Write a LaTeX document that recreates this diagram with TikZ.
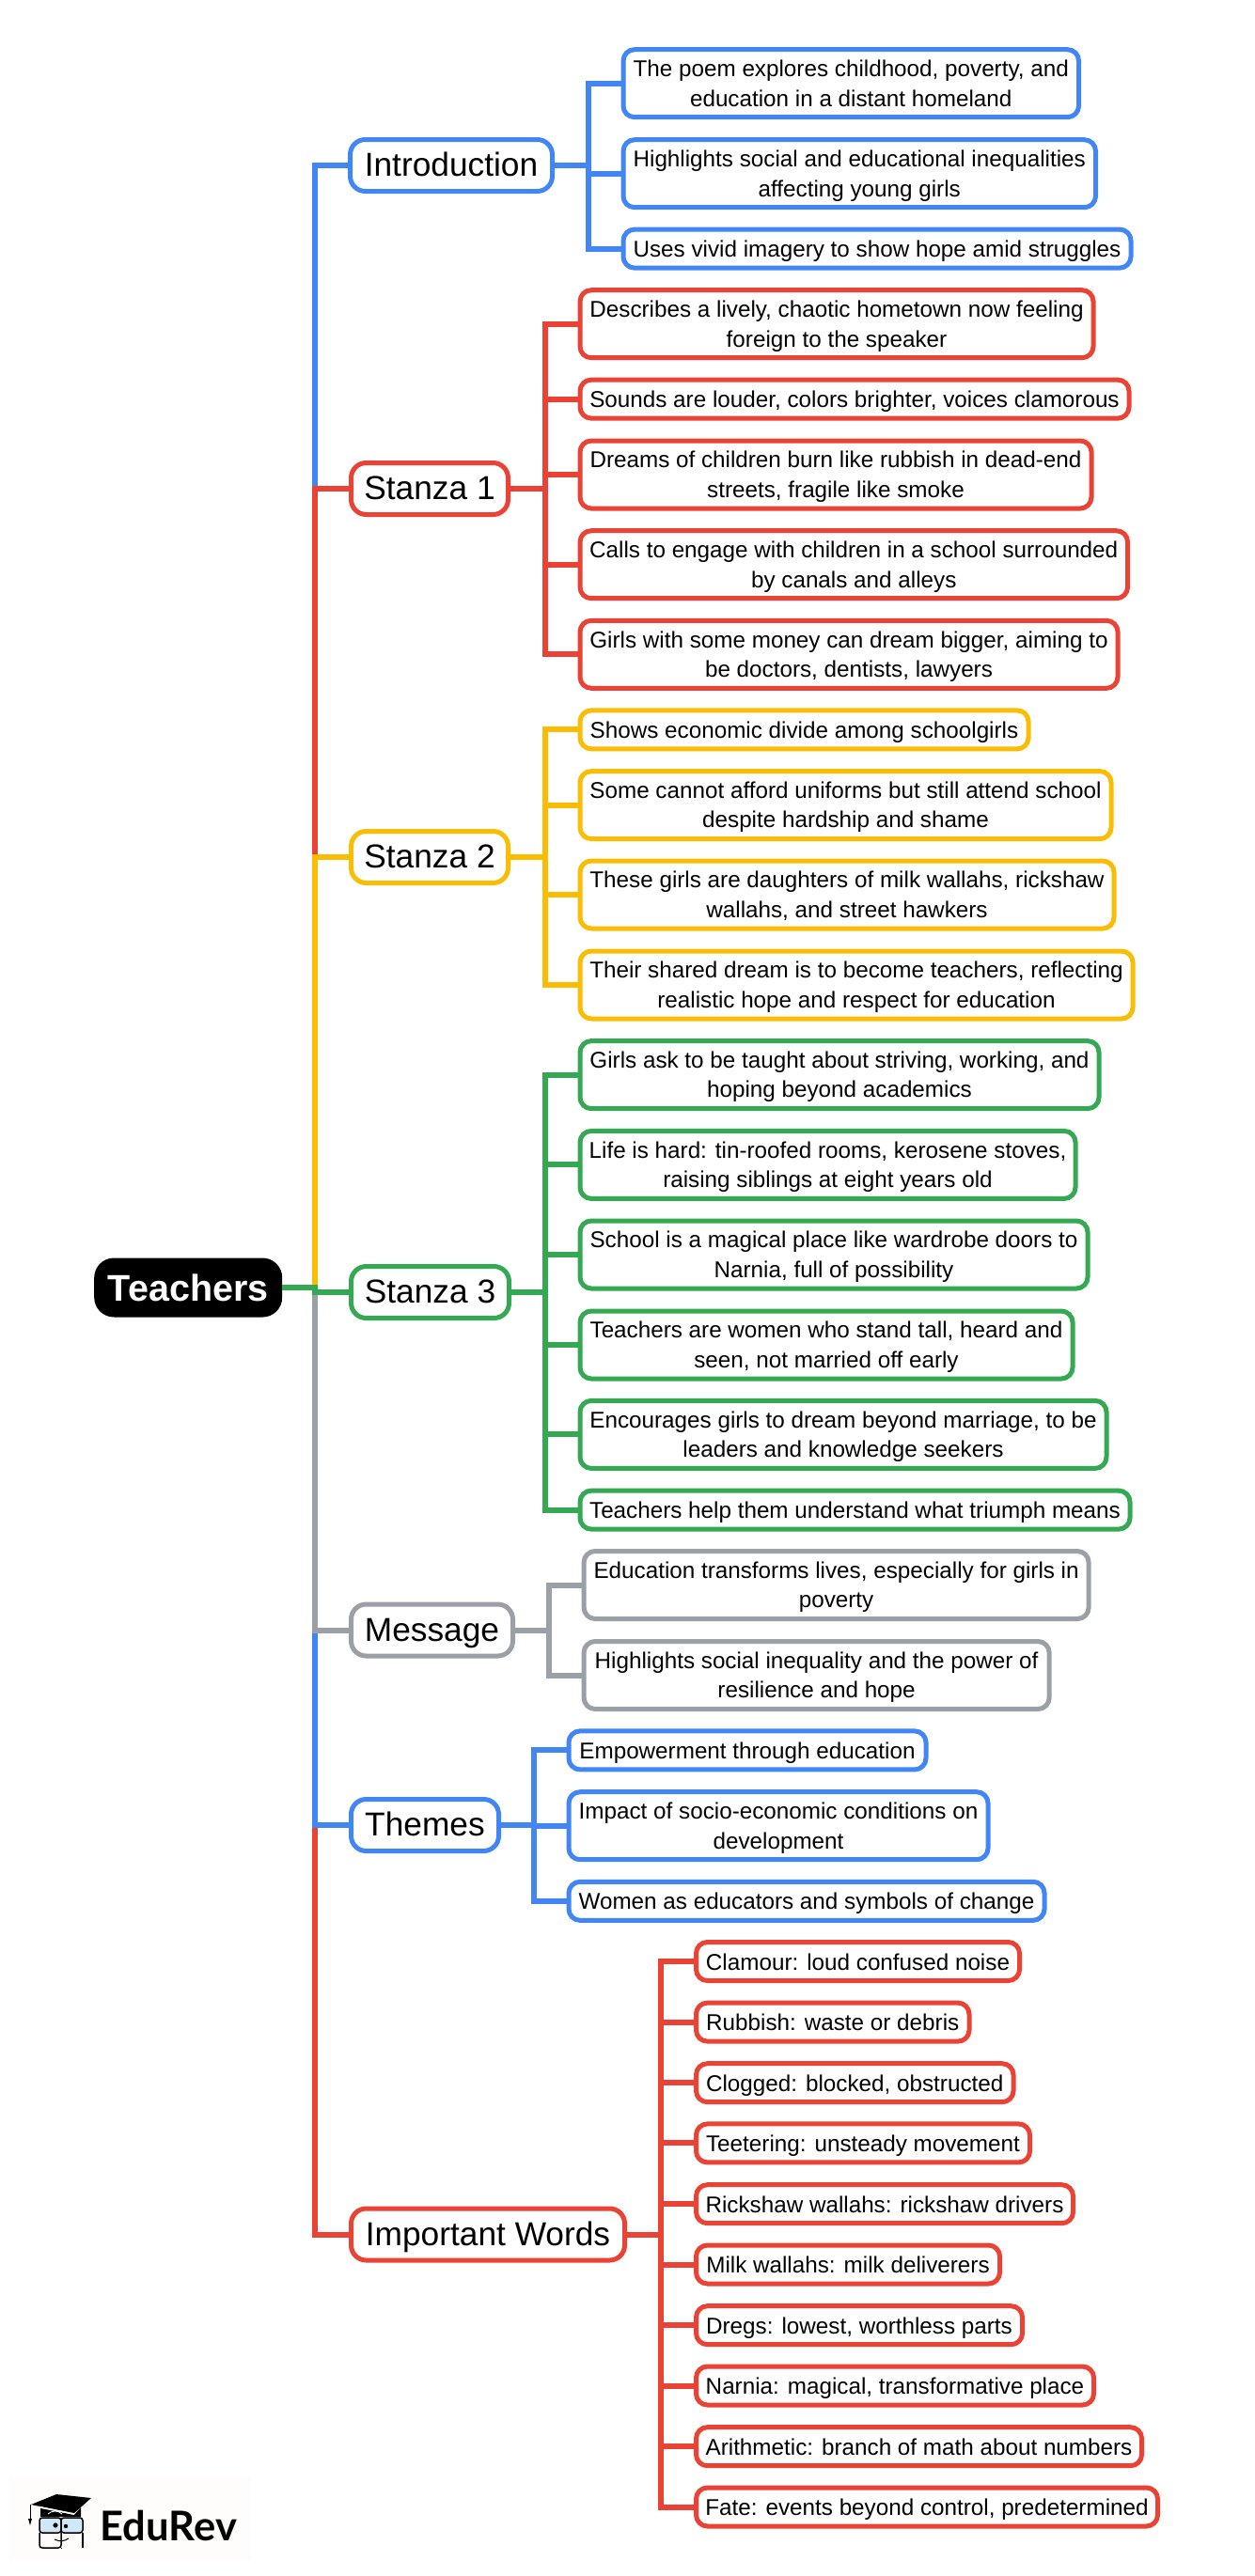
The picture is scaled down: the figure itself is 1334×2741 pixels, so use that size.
\documentclass[tikz,border=0pt]{standalone}
\usepackage{fontspec}
\setmainfont{Liberation Sans}
\newfontfamily\logofont{Lato}
\definecolor{gblue}{HTML}{4285F4}
\definecolor{gred}{HTML}{EA4335}
\definecolor{gyellow}{HTML}{FBBC04}
\definecolor{ggreen}{HTML}{34A853}
\definecolor{ggray}{HTML}{9AA0A6}
\definecolor{lens}{HTML}{CFE8F7}
\definecolor{paper}{HTML}{FEFDFB}
\begin{document}
\begin{tikzpicture}[
x=1pt,y=-1pt,
root/.style={
fill=black,
rectangle,
rounded corners=21pt,
anchor=west,
inner sep=0pt,
minimum width=200pt,
minimum height=63pt,
text=white,
font=\fontsize{39.5}{46}\selectfont\bfseries},
branch/.style={
draw=#1,
fill=white,
rectangle,
rounded corners=16pt,
line width=5pt,
anchor=west,
inner sep=0pt,
minimum height=55pt,
text height=31pt,
text depth=8pt,
font=\fontsize{35.3}{42}\selectfont},
leaf/.style 2 args={
draw=#1,
fill=white,
rectangle,
rounded corners=12pt,
line width=5pt,
anchor=west,
inner sep=0pt,
minimum width=#2,
align=center,
font=\fontsize{24.25}{31.5}\selectfont},
one/.style={minimum height=41pt,text height=27pt,text depth=9pt},
two/.style={minimum height=72pt,text height=58pt,text depth=9.4pt},
link/.style={draw=#1,line width=6pt,shorten >=-3pt},
sublink/.style={link=#1,shorten <=-3pt}
]

\useasboundingbox (0,0) rectangle (1334,2741);

% centre
\node (teachers) at (100,1370) [root] {Teachers};

% first level
\node (intro) at (370,176) [branch=gblue,minimum width=215pt] {Introduction};
\node (stanzaA) at (371,520) [branch=gred,minimum width=167pt] {Stanza 1};
\node (stanzaB) at (371,912) [branch=gyellow,minimum width=167pt] {Stanza 2};
\node (stanzaC) at (371,1375) [branch=ggreen,minimum width=168pt] {Stanza 3};
\node (message) at (371,1734.5) [branch=ggray,minimum width=172pt] {Message};
\node (themes) at (371,1942) [branch=gblue,minimum width=157pt] {Themes};
\node (words) at (371,2377.5) [branch=gred,minimum width=291pt] {Important Words};

% introduction
\node (introA) at (660.5,88.7) [leaf={gblue}{484.5pt},two] {The poem explores childhood, poverty, and\\education in a distant homeland};
\node (introB) at (660.5,184.7) [leaf={gblue}{502.5pt},two] {Highlights social and educational inequalities\\affecting young girls};
\node (introC) at (660.5,264.6) [leaf={gblue}{540pt},one] {Uses vivid imagery to show hope amid struggles};

% stanza 1
\node (redA) at (614.5,344.7) [leaf={gred}{546pt},two] {Describes a lively, chaotic hometown now feeling\\foreign to the speaker};
\node (redB) at (614.5,424.6) [leaf={gred}{584pt},one] {Sounds are louder, colors brighter, voices clamorous};
\node (redC) at (614.5,505) [leaf={gred}{544pt},two] {Dreams of children burn like rubbish in dead-end\\streets, fragile like smoke};
\node (redD) at (614.5,600.7) [leaf={gred}{582.5pt},two] {Calls to engage with children in a school surrounded\\by canals and alleys};
\node (redE) at (614.5,696.3) [leaf={gred}{572pt},two] {Girls with some money can dream bigger, aiming to\\be doctors, dentists, lawyers};

% stanza 2
\node (yelA) at (614.5,776.4) [leaf={gyellow}{477pt},one] {Shows economic divide among schoolgirls};
\node (yelB) at (614.5,856.6) [leaf={gyellow}{565pt},two] {Some cannot afford uniforms but still attend school\\despite hardship and shame};
\node (yelC) at (614.5,952) [leaf={gyellow}{568pt},two] {These girls are daughters of milk wallahs, rickshaw\\wallahs, and street hawkers};
\node (yelD) at (614.5,1048) [leaf={gyellow}{588pt},two] {Their shared dream is to become teachers, reflecting\\realistic hope and respect for education};

% stanza 3
\node (greA) at (614.5,1143.6) [leaf={ggreen}{552pt},two] {Girls ask to be taught about striving, working, and\\hoping beyond academics};
\node (greB) at (614.5,1239.4) [leaf={ggreen}{527pt},two] {Life is hard: tin-roofed rooms, kerosene stoves,\\raising siblings at eight years old};
\node (greC) at (614.5,1335) [leaf={ggreen}{540pt},two] {School is a magical place like wardrobe doors to\\Narnia, full of possibility};
\node (greD) at (614.5,1431) [leaf={ggreen}{524pt},two] {Teachers are women who stand tall, heard and\\seen, not married off early};
\node (greE) at (614.5,1526.4) [leaf={ggreen}{560pt},two] {Encourages girls to dream beyond marriage, to be\\leaders and knowledge seekers};
\node (greF) at (614.5,1606.6) [leaf={ggreen}{585pt},one] {Teachers help them understand what triumph means};

% message
\node (msgA) at (618.6,1686.5) [leaf={ggray}{537pt},two] {Education transforms lives, especially for girls in\\poverty};
\node (msgB) at (618.6,1782.5) [leaf={ggray}{495pt},two] {Highlights social inequality and the power of\\resilience and hope};

% themes
\node (theA) at (602.5,1862.4) [leaf={gblue}{380pt},one] {Empowerment through education};
\node (theB) at (602.5,1942.7) [leaf={gblue}{446pt},two] {Impact of socio-economic conditions on\\development};
\node (theC) at (602.5,2022.8) [leaf={gblue}{506pt},one] {Women as educators and symbols of change};

% important words
\node (wrdA) at (738,2087) [leaf={gred}{344pt},one] {Clamour: loud confused noise};
\node (wrdB) at (738,2151.6) [leaf={gred}{290.5pt},one] {Rubbish: waste or debris};
\node (wrdC) at (738,2216.2) [leaf={gred}{337.5pt},one] {Clogged: blocked, obstructed};
\node (wrdD) at (738,2280.4) [leaf={gred}{355pt},one] {Teetering: unsteady movement};
\node (wrdE) at (738,2345.2) [leaf={gred}{401pt},one] {Rickshaw wallahs: rickshaw drivers};
\node (wrdF) at (738,2409.5) [leaf={gred}{323pt},one] {Milk wallahs: milk deliverers};
\node (wrdG) at (738,2474.2) [leaf={gred}{347pt},one] {Dregs: lowest, worthless parts};
\node (wrdH) at (738,2538.5) [leaf={gred}{423pt},one] {Narnia: magical, transformative place};
\node (wrdI) at (738,2603.2) [leaf={gred}{474pt},one] {Arithmetic: branch of math about numbers};
\node (wrdJ) at (738,2667.5) [leaf={gred}{491pt},one] {Fate: events beyond control, predetermined};

% trunks
\coordinate (spine) at (335,1370);
\coordinate (introT) at (625.5,176);
\coordinate (redT) at (579.5,520);
\coordinate (yelT) at (579.5,912);
\coordinate (greT) at (579.5,1375);
\coordinate (msgT) at (583.5,1734.5);
\coordinate (theT) at (567.5,1942);
\coordinate (wrdT) at (702.7,2377.5);

% second level links
\foreach \n in {introA,introB,introC}
\draw[sublink=gblue] (intro.east) -- (introT) |- (\n.west);
\foreach \n in {redA,redB,redC,redD,redE}
\draw[sublink=gred] (stanzaA.east) -- (redT) |- (\n.west);
\foreach \n in {yelA,yelB,yelC,yelD}
\draw[sublink=gyellow] (stanzaB.east) -- (yelT) |- (\n.west);
\foreach \n in {greA,greB,greC,greD,greE,greF}
\draw[sublink=ggreen] (stanzaC.east) -- (greT) |- (\n.west);
\foreach \n in {msgA,msgB}
\draw[sublink=ggray] (message.east) -- (msgT) |- (\n.west);
\foreach \n in {theA,theB,theC}
\draw[sublink=gblue] (themes.east) -- (theT) |- (\n.west);
\foreach \n in {wrdA,wrdB,wrdC,wrdD,wrdE,wrdF,wrdG,wrdH,wrdI,wrdJ}
\draw[sublink=gred] (words.east) -- (wrdT) |- (\n.west);

% first level links, later ones lie over earlier ones
\draw[link=gred] (teachers.east) -- (spine) |- (words.west);
\draw[link=gblue] (teachers.east) -- (spine) |- (themes.west);
\draw[link=ggray] (teachers.east) -- (spine) |- (message.west);
\draw[link=gblue] (teachers.east) -- (spine) |- (intro.west);
\draw[link=gred] (teachers.east) -- (spine) |- (stanzaA.west);
\draw[link=gyellow] (teachers.east) -- (spine) |- (stanzaB.west);
\draw[link=ggreen] (teachers.east) -- (spine) |- (stanzaC.west);

% logo
\fill[paper] (11,2635) rectangle (267,2725);
\node (logotext) at (106.5,2703) [anchor=base west,inner sep=0pt,font=\fontsize{43.5}{50}\selectfont\logofont\bfseries] {EduRev};
\fill (33,2665) -- (60,2654) -- (97,2658) -- (79,2674) -- cycle;
\fill (43,2669) -- (43,2678) -- (86,2678) -- (86,2668) -- (79,2676) -- cycle;
\draw[white,line width=.8pt] (43,2667.5) -- (79,2675.5);
\draw[white,line width=.8pt] (51,2675) .. controls (55,2671) and (62,2671) .. (66,2675);
\draw[line width=1pt] (32,2665) -- (32,2680);
\fill (30,2680) -- (34,2680) -- (32,2687) -- cycle;
\draw[fill=lens,line width=1.5pt,rounded corners=3pt] (42,2679) rectangle (65,2695);
\draw[fill=lens,line width=1.5pt,rounded corners=3pt] (65,2679) rectangle (88,2695);
\draw[line width=1.5pt,rounded corners=3pt] (42,2695) -- (42,2711) -- (65,2711) -- (65,2695);
\draw[line width=1.5pt,rounded corners=3pt] (88,2695) -- (88,2711);
\draw[line width=1pt] (65,2711) -- (65,2712);
\fill (59,2687) circle (2.6pt);
\fill (70,2688) circle (2.2pt);
\draw[line width=1pt] (58,2702) .. controls (64,2705) and (68,2704) .. (73,2701);

\end{tikzpicture}
\end{document}
